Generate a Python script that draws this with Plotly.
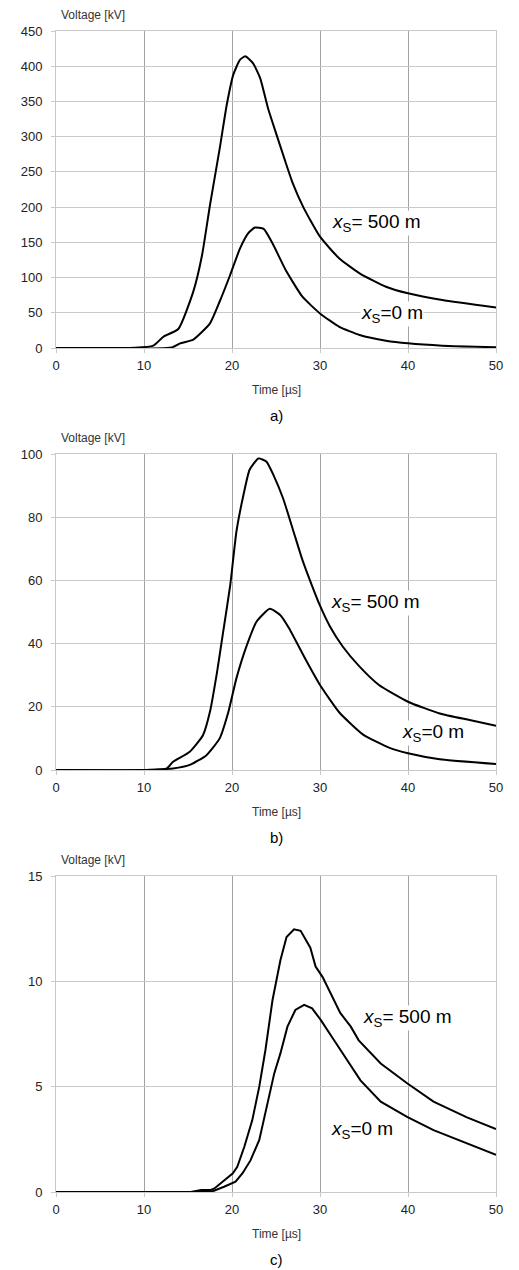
import plotly.graph_objects as go

# panel a) values
t_a_500 = [0, 9, 11, 11.4, 12.2, 13.9, 15.6, 16.6, 17.5, 18.6, 19.4, 20.15, 20.9, 21.5, 22.4, 23.2,
           24.1, 24.9, 26.0, 26.9, 28.1, 30.0, 32.2, 34.5, 37.5, 40.0, 43.9, 50]
v_a_500 = [0, 0.5, 3, 6.6, 16, 27, 80, 132, 203, 283, 345, 388, 409, 414, 404, 383,
           340, 309, 267, 234, 200, 158, 127, 106, 87, 77.6, 68, 57.5]
t_a_0 = [0, 13.1, 14.1, 15.6, 17.5, 18.6, 19.8, 20.9, 21.85, 22.6, 23.6, 24.6, 26.1, 28.0,
         30.0, 32.2, 34.5, 37.5, 40.0, 43.9, 50]
v_a_0 = [0, 0.6, 6.6, 12, 35, 66, 104, 141, 163, 171, 169, 148.6, 110.7, 72.8,
         49, 30, 18.5, 10.4, 6.6, 3.3, 1]

# panel b)
t_b_500 = [0, 10, 12.6, 13.3, 15.2, 16.7, 17.5, 18.3, 19.0, 19.8, 20.5, 21.3, 22.0, 23.0, 23.9,
           24.7, 25.8, 27.0, 28.0, 29.0, 30.0, 31.1, 32.6, 34.5, 36.7, 40.0, 43.6, 47.0, 50]
v_b_500 = [0, 0, 0.5, 2.6, 5.8, 11, 18.5, 31, 43.8, 58.5, 75.4, 87, 95, 98.6, 97.6,
           93.4, 86, 75.4, 66.5, 59, 52, 45.6, 39, 32.7, 26.9, 21.6, 17.9, 15.8, 14.0]
t_b_0 = [0, 10, 13.3, 15.2, 17.1, 18.6, 19.6, 20.5, 21.7, 22.8, 24.3, 25.5, 26.5, 28.4, 30.0,
         32.2, 34.9, 37.9, 40.0, 43.6, 50]
v_b_0 = [0, 0, 0.5, 1.6, 4.7, 10, 18.5, 29, 39.6, 47, 51, 49, 44.8, 34.8, 26.9,
         18.2, 11.2, 7.0, 5.3, 3.4, 1.9]

# panel c)
t_c_500 = [0, 15.3, 16.5, 17.6, 18.0, 19.1, 20.1, 20.6, 21.4, 22.3, 23.1, 23.8, 24.6, 25.5, 26.2,
           27.05, 27.8, 28.9, 29.5, 30.3, 31.0, 32.3, 33.5, 34.4, 36.9, 39.9, 42.9, 46.7, 50]
v_c_500 = [0, 0, 0.1, 0.1, 0.17, 0.57, 0.89, 1.2, 2.15, 3.4, 5.0, 6.74, 9.1, 11.0, 12.1,
           12.47, 12.4, 11.6, 10.7, 10.2, 9.6, 8.5, 7.85, 7.2, 6.1, 5.16, 4.29, 3.54, 2.99]
t_c_0 = [0, 17.6, 19.1, 20.4, 21.2, 22.1, 23.1, 23.8, 24.8, 25.5, 26.3, 27.2, 28.2, 29.1, 30.1,
         31.6, 33.1, 34.6, 36.9, 39.9, 42.9, 46.7, 50]
v_c_0 = [0, 0, 0.25, 0.49, 0.89, 1.5, 2.47, 3.73, 5.63, 6.58, 7.85, 8.64, 8.88, 8.72, 8.16,
         7.2, 6.26, 5.3, 4.29, 3.57, 2.94, 2.31, 1.76]

x_ticks = [0, 10, 20, 30, 40, 50]
tags = ["a)", "b)", "c)"]
y_max = [450, 100, 15]
y_step = [50, 20, 5]
# label anchor points (time, voltage) for the two curve captions
lab_500 = [(31.3, 177), (31.1, 52.8), (34.8, 8.24)]
lab_0 = [(34.5, 48), (39.2, 11.7), (31.1, 2.94)]

W, H = 519, 1270
plot_px = [(31, 348), (454, 770), (876, 1192)]  # top/bottom pixel rows of each plot area

font = "Liberation Sans, Arial, sans-serif"
grid_v = "#a3a3a3"
grid_h = "#c9c9c9"

series = [
    (t_a_500, v_a_500, t_a_0, v_a_0),
    (t_b_500, v_b_500, t_b_0, v_b_0),
    (t_c_500, v_c_500, t_c_0, v_c_0),
]

fig = go.Figure()
annotations = []
for i, (t5, v5, t0, v0) in enumerate(series):
    n = "" if i == 0 else str(i + 1)
    shape = "linear" if i == 2 else "spline"
    for tt, vv in ((t5, v5), (t0, v0)):
        fig.add_trace(go.Scatter(x=tt, y=vv, mode="lines", xaxis="x" + n, yaxis="y" + n,
                                 line=dict(color="black", width=2, shape=shape, smoothing=0.5),
                                 hoverinfo="skip"))
    top, bot = plot_px[i]
    fig.layout["xaxis" + n] = dict(
        domain=[56 / W, 496 / W], anchor="y" + n, range=[0, 50], tickvals=x_ticks,
        automargin=False,
        showgrid=True, gridcolor=grid_v, gridwidth=1, zeroline=False,
        showline=True, mirror=True, linecolor=grid_h, linewidth=1,
        ticks="outside", ticklen=4, tickcolor=grid_h, ticklabelstandoff=1,
        tickfont=dict(family=font, size=13, color="#222"),
    )
    fig.layout["yaxis" + n] = dict(
        domain=[1 - bot / H, 1 - top / H], anchor="x" + n, range=[0, y_max[i]], dtick=y_step[i],
        automargin=False,
        showgrid=True, gridcolor=grid_h, gridwidth=1, zeroline=False,
        showline=True, mirror=True, linecolor=grid_h, linewidth=1,
        ticks="outside", ticklen=4, tickcolor=grid_h, ticklabelstandoff=6,
        tickfont=dict(family=font, size=13, color="#222"),
    )
    xr, yr = "x" + n, "y" + n
    annotations += [
        dict(text="Voltage [kV]", xref=xr + " domain", yref=yr + " domain", x=0, y=1,
             xanchor="left", yanchor="middle", xshift=3, yshift=16, showarrow=False,
             font=dict(family=font, size=12, color="#333")),
        dict(text="Time [µs]", xref=xr + " domain", yref=yr + " domain", x=0.5, y=0,
             xanchor="center", yanchor="middle", yshift=-42, showarrow=False,
             font=dict(family=font, size=12, color="#333")),
        dict(text=tags[i], xref=xr + " domain", yref=yr + " domain", x=0.5, y=0,
             xanchor="center", yanchor="middle", yshift=-67, showarrow=False,
             font=dict(family=font, size=15, color="black")),
        dict(text="<i>x</i><sub>S</sub>= 500 m", xref=xr, yref=yr,
             x=lab_500[i][0], y=lab_500[i][1], xanchor="left", yanchor="middle",
             showarrow=False, bgcolor="white", borderpad=0,
             font=dict(family=font, size=19, color="black")),
        dict(text="<i>x</i><sub>S</sub>=0 m", xref=xr, yref=yr,
             x=lab_0[i][0], y=lab_0[i][1], xanchor="left", yanchor="middle",
             showarrow=False, bgcolor="white", borderpad=0,
             font=dict(family=font, size=19, color="black")),
    ]

fig.update_layout(
    width=W, height=H, margin=dict(l=0, r=0, t=0, b=0, autoexpand=False),
    paper_bgcolor="white", plot_bgcolor="white", showlegend=False,
    annotations=annotations,
)

# drop the browser's default page margin so the figure sits at the window's corner
fig.write_html("out.html", config={"displayModeBar": False},
               post_script="document.body.style.margin='0';")
